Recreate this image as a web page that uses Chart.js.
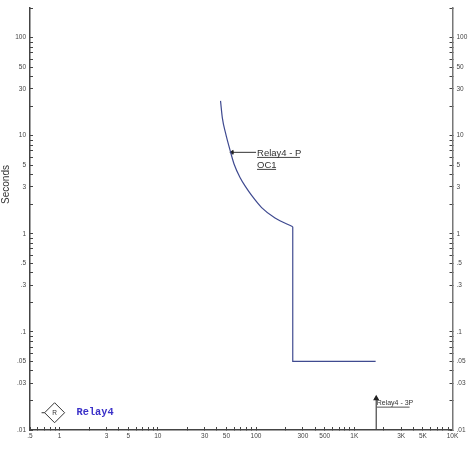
<!DOCTYPE html>
<html>
<head>
<meta charset="utf-8">
<style>
  html, body { margin: 0; padding: 0; background: #fff; }
  #wrap { width: 474px; height: 450px; }
</style>
<script src="https://cdn.jsdelivr.net/npm/chart.js@4"></script>
</head>
<body>
<div id="wrap"><canvas id="tcc"></canvas></div>
<script>
// axis ticks
const xTicks = [.5, .6, .7, .8, .9, 1, 2, 3, 4, 5, 6, 7, 8, 9, 10, 20, 30, 40, 50, 60, 70, 80, 90, 100,
  200, 300, 400, 500, 600, 700, 800, 900, 1000, 2000, 3000, 4000, 5000, 6000, 7000, 8000, 9000, 10000];
const xLabels = { .5: ".5", 1: "1", 3: "3", 5: "5", 10: "10", 30: "30", 50: "50", 100: "100",
  300: "300", 500: "500", 1000: "1K", 3000: "3K", 5000: "5K", 10000: "10K" };
const yTicks = [.01, .02, .03, .04, .05, .06, .07, .08, .09, .1, .2, .3, .4, .5, .6, .7, .8, .9, 1,
  2, 3, 4, 5, 6, 7, 8, 9, 10, 20, 30, 40, 50, 60, 70, 80, 90, 100, 200];
const yLabels = { .01: ".01", .03: ".03", .05: ".05", .1: ".1", .3: ".3", .5: ".5", 1: "1",
  3: "3", 5: "5", 10: "10", 30: "30", 50: "50", 100: "100" };

// Relay4 - P OC1 curve
const curveAmps = [43.5, 45.4, 48.9, 55.0, 59.7, 68.7, 79.1, 91.0, 114, 156, 236.5];
const curveSecs = [22.6, 15.2, 10.65, 6.82, 5.15, 3.75, 2.97, 2.43, 1.85, 1.45, 1.18];
const stepAmps = [236.5, 236.5, 1650];
const stepSecs = [1.18, .05, .05];

// Relay4 - 3P
const instAmps = [1673, 1673];
const instSecs = [.01, .021];

// leaders and underlines
const leaderAmps = [57, 100];
const leaderSecs = [6.76, 6.76];
const underlineP = [[102.4, 6.0], [280, 6.0]];
const underlineOc = [[102.4, 4.53], [160, 4.53]];
const underline3p = [[1692, .0171], [3656, .0171]];
const stub = [[.656, .015], [.705, .015]];
const relayMark = [[.89, .015]];

// text placed on the data scales
const notes = [
  { text: "Relay4 - P", x: 102.4, y: 6.6, font: "9.5px 'Liberation Sans'", color: "#333", align: "left" },
  { text: "OC1", x: 102.4, y: 4.98, font: "9.5px 'Liberation Sans'", color: "#333", align: "left" },
  { text: "Relay4 - 3P", x: 1692, y: .0186, font: "7px 'Liberation Sans'", color: "#333", align: "left" },
  { text: "Relay4", x: 1.49, y: .0152, font: "bold 10.3px 'Liberation Mono'", color: "#3a30c8", align: "left" },
  { text: "R", x: .89, y: .015, font: "6.5px 'Liberation Sans'", color: "#333", align: "center" }
];
const axisTitle = "Seconds";
const axisTitleAt = 3.18;

const pts = (xs, ys) => xs.map((x, i) => ({ x: x, y: ys[i] }));
const pairs = (list) => list.map((p) => ({ x: p[0], y: p[1] }));

const notePlugin = {
  id: "notes",
  afterDatasetsDraw(chart) {
    const ctx = chart.ctx;
    ctx.save();
    ctx.textBaseline = "middle";
    notes.forEach(function (n) {
      ctx.font = n.font;
      ctx.fillStyle = n.color;
      ctx.textAlign = n.align;
      ctx.fillText(n.text, chart.scales.x.getPixelForValue(n.x), chart.scales.y.getPixelForValue(n.y));
    });
    // title sits off centre on the axis, so it is not the scale's own title
    ctx.translate(chart.scales.y.left + 6, chart.scales.y.getPixelForValue(axisTitleAt));
    ctx.rotate(-Math.PI / 2);
    ctx.textAlign = "center";
    ctx.font = "10px 'Liberation Sans'";
    ctx.fillStyle = "#333";
    ctx.fillText(axisTitle, 0, 0);
    ctx.restore();
  }
};

function plainLine(data, color, width) {
  return { data: data, borderColor: color, borderWidth: width, pointRadius: 0, showLine: true, fill: false, tension: 0 };
}

function tickOpts(labels) {
  return {
    autoSkip: false,
    maxRotation: 0,
    minRotation: 0,
    color: "#444",
    font: { family: "'Liberation Sans'", size: 6.5 },
    callback: (v) => (labels[v] !== undefined ? labels[v] : "")
  };
}

function gridOpts() {
  return { drawOnChartArea: false, drawTicks: true, tickLength: -3, color: "#444", lineWidth: 1 };
}

new Chart(document.getElementById("tcc").getContext("2d"), {
  type: "scatter",
  data: {
    datasets: [
      Object.assign(plainLine(pts(curveAmps, curveSecs), "#3f4a90", 1.2), { cubicInterpolationMode: "monotone" }),
      plainLine(pts(stepAmps, stepSecs), "#3f4a90", 1.2),
      Object.assign(plainLine(pts(instAmps, instSecs), "#444", 1.2), {
        pointRadius: [0, 2.4], pointStyle: "triangle", pointBackgroundColor: "#222", pointBorderColor: "#222"
      }),
      Object.assign(plainLine(pts(leaderAmps, leaderSecs), "#333", 1), {
        pointRadius: [2.2, 0], pointStyle: "triangle", pointRotation: -90, pointBackgroundColor: "#222", pointBorderColor: "#222"
      }),
      plainLine(pairs(underlineP), "#444", 1),
      plainLine(pairs(underlineOc), "#444", 1),
      plainLine(pairs(underline3p), "#555", 1),
      plainLine(pairs(stub), "#333", 1),
      {
        data: pairs(relayMark), pointStyle: "rectRot", pointRadius: 10,
        pointBackgroundColor: "#fff", pointBorderColor: "#333", pointBorderWidth: 1, showLine: false
      }
    ]
  },
  options: {
    responsive: true,
    maintainAspectRatio: false,
    animation: false,
    layout: { autoPadding: false, padding: { top: 8 } },
    plugins: { legend: { display: false }, tooltip: { enabled: false } },
    scales: {
      x: {
        type: "logarithmic",
        min: .5,
        max: 10000,
        border: { color: "#444", width: 1.5 },
        grid: gridOpts(),
        ticks: Object.assign(tickOpts(xLabels), { padding: 5 }),
        afterBuildTicks: (s) => { s.ticks = xTicks.map((v) => ({ value: v })); },
        afterFit: (s) => { s.height = 20; s.paddingLeft = 0; s.paddingRight = 0; }
      },
      y: {
        type: "logarithmic",
        position: "left",
        min: .01,
        max: 200,
        border: { color: "#444", width: 1.5 },
        grid: gridOpts(),
        ticks: Object.assign(tickOpts(yLabels), { padding: 7 }),
        afterBuildTicks: (s) => { s.ticks = yTicks.map((v) => ({ value: v })); },
        afterFit: (s) => { s.width = 30; s.paddingTop = 0; s.paddingBottom = 0; }
      },
      y2: {
        type: "logarithmic",
        position: "right",
        min: .01,
        max: 200,
        border: { color: "#777", width: 1.5 },
        grid: gridOpts(),
        ticks: Object.assign(tickOpts(yLabels), { padding: 7 }),
        afterBuildTicks: (s) => { s.ticks = yTicks.map((v) => ({ value: v })); },
        afterFit: (s) => { s.width = 21.5; s.paddingTop = 0; s.paddingBottom = 0; }
      }
    }
  },
  plugins: [notePlugin]
});
</script>
</body>
</html>
